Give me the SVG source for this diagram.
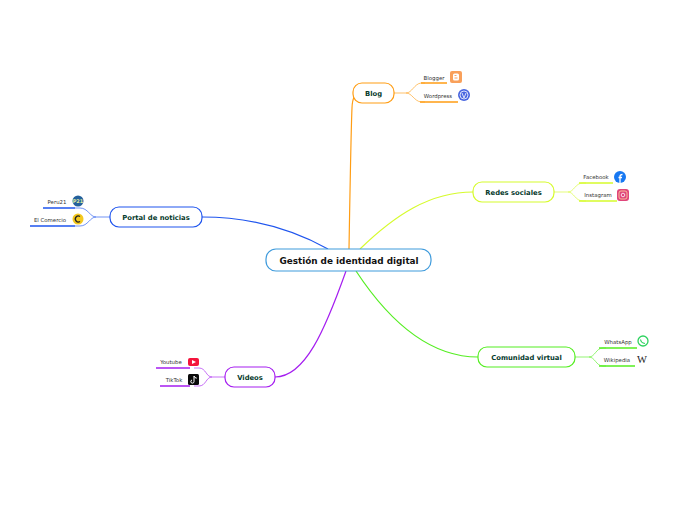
<svg xmlns="http://www.w3.org/2000/svg" width="697" height="520" viewBox="0 0 697 520">
<style>
text{font-family:"DejaVu Sans",Verdana,sans-serif}
.t{font-size:6.8px;font-weight:bold;fill:#053a2c;text-anchor:middle}
.s{font-size:5.4px;fill:#333;text-anchor:middle}
.c{fill:none;stroke-width:1.2}
.u{fill:none;stroke-width:1.6}
.l{fill:none;stroke-width:.9;opacity:.7}
.n{fill:#fff;stroke-width:1.2}
.or{stroke:#ff9d14}.ye{stroke:#d6fb2c}.gr{stroke:#55ee22}.pu{stroke:#a51ef0}.bl{stroke:#1f55ee}
</style>
<rect width="697" height="520" fill="#fff"/>
<g id="connectors">
<path class="c or" d="M349 249C350 190 351 130 352 108Q352.500 93 360 93"/>
<path class="c ye" d="M360 249C395 215 430 192 473 192"/>
<path class="c gr" d="M356 271C385 315 425 357 478 357"/>
<path class="c pu" d="M346 271C325 330 305 377 275 377"/>
<path class="c bl" d="M328 249C290 228 250 217 202 217"/>
<path class="l or" d="M394 93H406C412 93 414 84 421 83H425M406 93C412 93 414 101 421 102H425"/>
<path class="u or" d="M421 83H447M420 102H458"/>
<path class="l ye" d="M554 192H568C574 192 575 183 583 183H586M568 192C574 192 575 201 583 201H586"/>
<path class="u ye" d="M579 183H613M579 201H617"/>
<path class="l gr" d="M575 357H589C595 357 596 348 603 348H606M589 357C595 357 596 366 603 366H606"/>
<path class="u gr" d="M599 348H637M599 366H635"/>
<path class="l pu" d="M225 377H212C206 377 206 368 199 368H194M212 377C206 377 206 386 199 386H194"/>
<path class="u pu" d="M156 368H190M160 386H190"/>
<path class="l bl" d="M110 217H96C90 217 88 208 80 208H75M96 217C90 217 88 226 80 226H75"/>
<path class="u bl" d="M43 208H75M30 226H75"/>
</g>
<g id="central"><rect x="266" y="249" width="165" height="22" rx="10" fill="#fff" stroke="#3f9bdc" stroke-width="1.2"/><text x="349" y="263.500" text-anchor="middle" font-size="8.850" font-weight="bold" fill="#111">Gestión de identidad digital</text></g>
<g id="blog"><rect class="n or" x="353" y="83" width="41" height="20" rx="9"/><text class="t" x="373.500" y="96">Blog</text></g>
<g id="redes"><rect class="n ye" x="473" y="182" width="81" height="20" rx="9"/><text class="t" x="513.500" y="195">Redes sociales</text></g>
<g id="comunidad"><rect class="n gr" x="478" y="347" width="97" height="20" rx="9"/><text class="t" x="526.500" y="360">Comunidad virtual</text></g>
<g id="videos"><rect class="n pu" x="225" y="367" width="50" height="20" rx="9"/><text class="t" x="250" y="380">Videos</text></g>
<g id="portal"><rect class="n bl" x="110" y="207" width="92" height="20" rx="9"/><text class="t" x="156" y="220">Portal de noticias</text></g>
<g id="blogger"><text class="s" x="434" y="80">Blogger</text><rect x="450" y="71" width="12" height="12" rx="2" fill="#f9a05a"/><rect x="453" y="73.500" width="6" height="7" rx="1.500" fill="#fff"/><path d="M454.500 75.500H456.500M454.500 78H457.500" stroke="#f58d3d" stroke-width=".8"/></g>
<g id="wordpress"><text class="s" x="438" y="98">Wordpress</text><circle cx="464" cy="95" r="6" fill="#4a67e0"/><circle cx="464" cy="95" r="4" fill="none" stroke="#fff" stroke-width=".8"/><path d="M462 93L464 98L466 93" fill="none" stroke="#fff" stroke-width=".8"/></g>
<g id="facebook"><text class="s" x="596" y="179">Facebook</text><circle cx="620" cy="177" r="6" fill="#1778f2"/><path d="M620 183V176.500Q620 174.500 622.500 174.500M618.500 177.500H622" fill="none" stroke="#fff" stroke-width="1.300"/></g>
<g id="instagram"><text class="s" x="598" y="197">Instagram</text><rect x="617" y="189" width="12" height="12" rx="3" fill="#e0457b"/><rect x="619" y="191" width="8" height="8" rx="2" fill="none" stroke="#ffd9a0" stroke-width=".8"/><circle cx="623" cy="195" r="1.800" fill="none" stroke="#fff" stroke-width=".8"/></g>
<g id="whatsapp"><text class="s" x="618" y="344">WhatsApp</text><circle cx="643" cy="341" r="5" fill="#fff" stroke="#2ed35f" stroke-width="1.300"/><path d="M640.500 339.500Q641 343 645 343.500" fill="none" stroke="#2ed35f" stroke-width="1.200"/></g>
<g id="wikipedia"><text class="s" x="617" y="362">Wikipedia</text><text x="642" y="363" text-anchor="middle" font-size="10.500" fill="#222" style="font-family:'Liberation Serif',serif">W</text></g>
<g id="youtube"><text class="s" x="171" y="364">Youtube</text><rect x="188" y="358" width="11" height="8" rx="2" fill="#f4143c"/><path d="M192 360V364L196 362Z" fill="#fff"/></g>
<g id="tiktok"><text class="s" x="174" y="382">TikTok</text><rect x="188" y="374" width="11" height="11" rx="1.500" fill="#0a0a0a"/><path d="M194 376V381.500A1.600 1.600 0 1 1 192 380M194 376Q194.500 378 196.800 378.200" fill="none" stroke="#fff" stroke-width="1"/></g>
<g id="peru21"><text class="s" x="57" y="204">Peru21</text><circle cx="78" cy="201" r="5.500" fill="#24619c"/><text x="78" y="203" text-anchor="middle" font-size="5" font-weight="bold" fill="#dfe8a0">P21</text></g>
<g id="elcomercio"><text class="s" x="50" y="222">El Comercio</text><circle cx="78" cy="219" r="5.500" fill="#f4c91f"/><path d="M80 216.500A3 3 0 1 0 80 221.500" fill="none" stroke="#222" stroke-width="1.300"/></g>
</svg>
